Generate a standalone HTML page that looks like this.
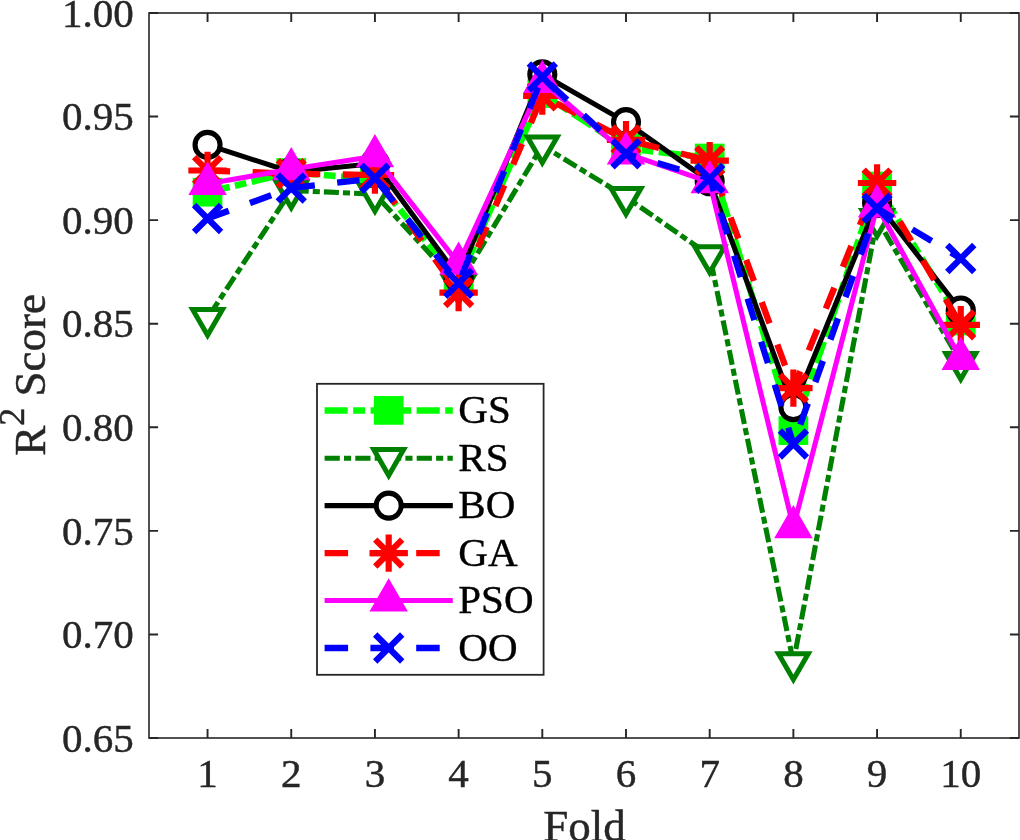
<!DOCTYPE html>
<html lang="en"><head><meta charset="utf-8"><title>R2 Score per Fold</title>
<style>html,body{margin:0;padding:0;background:#fff}body{width:1020px;height:840px;overflow:hidden}svg text{white-space:pre}</style>
</head><body>
<svg width="1020" height="840" viewBox="0 0 1020 840" style="display:block">
<rect width="1020" height="840" fill="#ffffff"/>
<rect x="149.0" y="13.0" width="870.00" height="725.00" fill="#ffffff" stroke="#262626" stroke-width="1.6"/>
<path d="M207.55 738.0v-9.1M207.55 13.0v9.1M291.24 738.0v-9.1M291.24 13.0v9.1M374.93 738.0v-9.1M374.93 13.0v9.1M458.62 738.0v-9.1M458.62 13.0v9.1M542.31 738.0v-9.1M542.31 13.0v9.1M626.00 738.0v-9.1M626.00 13.0v9.1M709.69 738.0v-9.1M709.69 13.0v9.1M793.38 738.0v-9.1M793.38 13.0v9.1M877.07 738.0v-9.1M877.07 13.0v9.1M960.76 738.0v-9.1M960.76 13.0v9.1M149.0 738.00h9.1M1019.0 738.00h-9.1M149.0 634.43h9.1M1019.0 634.43h-9.1M149.0 530.86h9.1M1019.0 530.86h-9.1M149.0 427.29h9.1M1019.0 427.29h-9.1M149.0 323.71h9.1M1019.0 323.71h-9.1M149.0 220.14h9.1M1019.0 220.14h-9.1M149.0 116.57h9.1M1019.0 116.57h-9.1M149.0 13.00h9.1M1019.0 13.00h-9.1" stroke="#262626" stroke-width="1.9" fill="none"/>
<g font-family="'Liberation Serif','Times New Roman',serif" font-size="41" fill="#262626" stroke="#262626" stroke-width="0.45">
<text x="207.55" y="787.4" text-anchor="middle">1</text>
<text x="291.24" y="787.4" text-anchor="middle">2</text>
<text x="374.93" y="787.4" text-anchor="middle">3</text>
<text x="458.62" y="787.4" text-anchor="middle">4</text>
<text x="542.31" y="787.4" text-anchor="middle">5</text>
<text x="626.00" y="787.4" text-anchor="middle">6</text>
<text x="709.69" y="787.4" text-anchor="middle">7</text>
<text x="793.38" y="787.4" text-anchor="middle">8</text>
<text x="877.07" y="787.4" text-anchor="middle">9</text>
<text x="960.76" y="787.4" text-anchor="middle">10</text>
<text x="133.7" y="751.70" text-anchor="end">0.65</text>
<text x="133.7" y="648.13" text-anchor="end">0.70</text>
<text x="133.7" y="544.56" text-anchor="end">0.75</text>
<text x="133.7" y="440.99" text-anchor="end">0.80</text>
<text x="133.7" y="337.41" text-anchor="end">0.85</text>
<text x="133.7" y="233.84" text-anchor="end">0.90</text>
<text x="133.7" y="130.27" text-anchor="end">0.95</text>
<text x="133.7" y="26.70" text-anchor="end">1.00</text>
</g>
<text x="584.4" y="841.3" text-anchor="middle" font-family="'Liberation Serif','Times New Roman',serif" font-size="45" fill="#262626" stroke="#262626" stroke-width="0.45">Fold</text>
<text transform="translate(44.7,455.8) rotate(-90)" font-family="'Liberation Serif','Times New Roman',serif" font-size="45" fill="#262626" stroke="#262626" stroke-width="0.45">R<tspan dy="-21" font-size="36.0">2</tspan><tspan dy="21"> Score</tspan></text>
<g fill="none" stroke="#00ff00" stroke-width="6.5" stroke-dasharray="22.7 5.4 11.7 5.5">
<path d="M207.55 192.20L291.24 172.50" stroke-dashoffset="0.00"/>
<path d="M291.24 172.50L374.93 179.00" stroke-dashoffset="40.68"/>
<path d="M374.93 179.00L458.62 281.00" stroke-dashoffset="34.02"/>
<path d="M458.62 281.00L542.31 93.50" stroke-dashoffset="30.06"/>
<path d="M542.31 93.50L626.00 148.30" stroke-dashoffset="8.89"/>
<path d="M626.00 148.30L709.69 158.00" stroke-dashoffset="12.32"/>
<path d="M709.69 158.00L793.38 430.60" stroke-dashoffset="5.97"/>
<path d="M793.38 430.60L877.07 186.00" stroke-dashoffset="19.33"/>
<path d="M877.07 186.00L960.76 321.00" stroke-dashoffset="6.05"/>
</g><g>
<rect x="192.70" y="177.85" width="29.7" height="28.7" fill="#00ff00"/>
<rect x="276.39" y="158.15" width="29.7" height="28.7" fill="#00ff00"/>
<rect x="360.08" y="164.65" width="29.7" height="28.7" fill="#00ff00"/>
<rect x="443.77" y="266.65" width="29.7" height="28.7" fill="#00ff00"/>
<rect x="527.46" y="79.15" width="29.7" height="28.7" fill="#00ff00"/>
<rect x="611.15" y="133.95" width="29.7" height="28.7" fill="#00ff00"/>
<rect x="694.84" y="143.65" width="29.7" height="28.7" fill="#00ff00"/>
<rect x="778.53" y="416.25" width="29.7" height="28.7" fill="#00ff00"/>
<rect x="862.22" y="171.65" width="29.7" height="28.7" fill="#00ff00"/>
<rect x="945.91" y="306.65" width="29.7" height="28.7" fill="#00ff00"/>
</g>
<g fill="none" stroke="#008000" stroke-width="5.1" stroke-dasharray="15.0 4.05 7.1 4.05">
<path d="M207.55 318.00L291.24 190.50" stroke-dashoffset="26.20"/>
<path d="M291.24 190.50L374.93 194.10" stroke-dashoffset="27.71"/>
<path d="M374.93 194.10L458.62 285.00" stroke-dashoffset="20.88"/>
<path d="M458.62 285.00L542.31 145.60" stroke-dashoffset="23.64"/>
<path d="M542.31 145.60L626.00 197.00" stroke-dashoffset="5.03"/>
<path d="M626.00 197.00L709.69 255.40" stroke-dashoffset="12.65"/>
<path d="M709.69 255.40L793.38 662.30" stroke-dashoffset="24.10"/>
<path d="M793.38 662.30L877.07 219.00" stroke-dashoffset="16.72"/>
<path d="M877.07 219.00L960.76 362.00" stroke-dashoffset="14.85"/>
</g><g>
<polygon points="192.65,309.40 222.45,309.40 207.55,335.21" fill="#ffffff" stroke="#008000" stroke-width="5" stroke-linejoin="miter" stroke-miterlimit="10"/>
<polygon points="276.34,181.90 306.14,181.90 291.24,207.71" fill="#ffffff" stroke="#008000" stroke-width="5" stroke-linejoin="miter" stroke-miterlimit="10"/>
<polygon points="360.03,185.50 389.83,185.50 374.93,211.31" fill="#ffffff" stroke="#008000" stroke-width="5" stroke-linejoin="miter" stroke-miterlimit="10"/>
<polygon points="443.72,276.40 473.52,276.40 458.62,302.21" fill="#ffffff" stroke="#008000" stroke-width="5" stroke-linejoin="miter" stroke-miterlimit="10"/>
<polygon points="527.41,137.00 557.21,137.00 542.31,162.81" fill="#ffffff" stroke="#008000" stroke-width="5" stroke-linejoin="miter" stroke-miterlimit="10"/>
<polygon points="611.10,188.40 640.90,188.40 626.00,214.21" fill="#ffffff" stroke="#008000" stroke-width="5" stroke-linejoin="miter" stroke-miterlimit="10"/>
<polygon points="694.79,246.80 724.59,246.80 709.69,272.61" fill="#ffffff" stroke="#008000" stroke-width="5" stroke-linejoin="miter" stroke-miterlimit="10"/>
<polygon points="778.48,653.70 808.28,653.70 793.38,679.51" fill="#ffffff" stroke="#008000" stroke-width="5" stroke-linejoin="miter" stroke-miterlimit="10"/>
<polygon points="862.17,210.40 891.97,210.40 877.07,236.21" fill="#ffffff" stroke="#008000" stroke-width="5" stroke-linejoin="miter" stroke-miterlimit="10"/>
<polygon points="945.86,353.40 975.66,353.40 960.76,379.21" fill="#ffffff" stroke="#008000" stroke-width="5" stroke-linejoin="miter" stroke-miterlimit="10"/>
</g>
<g><polyline points="207.55,144.90 291.24,172.00 374.93,163.50 458.62,277.00 542.31,74.20 626.00,122.10 709.69,181.30 793.38,407.10 877.07,203.00 960.76,310.50" fill="none" stroke="#000000" stroke-width="5.1" stroke-linejoin="round"/>
<circle cx="207.55" cy="144.90" r="12.5" fill="#ffffff" stroke="#000000" stroke-width="5.1"/>
<circle cx="291.24" cy="172.00" r="12.5" fill="#ffffff" stroke="#000000" stroke-width="5.1"/>
<circle cx="374.93" cy="163.50" r="12.5" fill="#ffffff" stroke="#000000" stroke-width="5.1"/>
<circle cx="458.62" cy="277.00" r="12.5" fill="#ffffff" stroke="#000000" stroke-width="5.1"/>
<circle cx="542.31" cy="74.20" r="12.5" fill="#ffffff" stroke="#000000" stroke-width="5.1"/>
<circle cx="626.00" cy="122.10" r="12.5" fill="#ffffff" stroke="#000000" stroke-width="5.1"/>
<circle cx="709.69" cy="181.30" r="12.5" fill="#ffffff" stroke="#000000" stroke-width="5.1"/>
<circle cx="793.38" cy="407.10" r="12.5" fill="#ffffff" stroke="#000000" stroke-width="5.1"/>
<circle cx="877.07" cy="203.00" r="12.5" fill="#ffffff" stroke="#000000" stroke-width="5.1"/>
<circle cx="960.76" cy="310.50" r="12.5" fill="#ffffff" stroke="#000000" stroke-width="5.1"/>
</g>
<g fill="none" stroke="#ff0000" stroke-width="6.3" stroke-dasharray="22.6 22.5">
<path d="M207.55 170.50L291.24 173.70" stroke-dashoffset="0.00"/>
<path d="M291.24 173.70L374.93 175.00" stroke-dashoffset="38.65"/>
<path d="M374.93 175.00L458.62 292.60" stroke-dashoffset="32.15"/>
<path d="M458.62 292.60L542.31 96.00" stroke-dashoffset="41.19"/>
<path d="M542.31 96.00L626.00 139.80" stroke-dashoffset="29.36"/>
<path d="M626.00 139.80L709.69 160.70" stroke-dashoffset="33.62"/>
<path d="M709.69 160.70L793.38 388.10" stroke-dashoffset="29.68"/>
<path d="M793.38 388.10L877.07 183.00" stroke-dashoffset="4.39"/>
<path d="M877.07 183.00L960.76 324.80" stroke-dashoffset="0.41"/>
</g><g>
<path d="M188.35 170.50H226.75M207.55 151.80V189.20M194.12 157.07L220.98 183.93M194.12 183.93L220.98 157.07" stroke="#ff0000" stroke-width="6.2" fill="none"/>
<path d="M272.04 173.70H310.44M291.24 155.00V192.40M277.81 160.27L304.67 187.13M277.81 187.13L304.67 160.27" stroke="#ff0000" stroke-width="6.2" fill="none"/>
<path d="M355.73 175.00H394.13M374.93 156.30V193.70M361.50 161.57L388.36 188.43M361.50 188.43L388.36 161.57" stroke="#ff0000" stroke-width="6.2" fill="none"/>
<path d="M439.42 292.60H477.82M458.62 273.90V311.30M445.19 279.17L472.05 306.03M445.19 306.03L472.05 279.17" stroke="#ff0000" stroke-width="6.2" fill="none"/>
<path d="M523.11 96.00H561.51M542.31 77.30V114.70M528.88 82.57L555.74 109.43M528.88 109.43L555.74 82.57" stroke="#ff0000" stroke-width="6.2" fill="none"/>
<path d="M606.80 139.80H645.20M626.00 121.10V158.50M612.57 126.37L639.43 153.23M612.57 153.23L639.43 126.37" stroke="#ff0000" stroke-width="6.2" fill="none"/>
<path d="M690.49 160.70H728.89M709.69 142.00V179.40M696.26 147.27L723.12 174.13M696.26 174.13L723.12 147.27" stroke="#ff0000" stroke-width="6.2" fill="none"/>
<path d="M774.18 388.10H812.58M793.38 369.40V406.80M779.95 374.67L806.81 401.53M779.95 401.53L806.81 374.67" stroke="#ff0000" stroke-width="6.2" fill="none"/>
<path d="M857.87 183.00H896.27M877.07 164.30V201.70M863.64 169.57L890.50 196.43M863.64 196.43L890.50 169.57" stroke="#ff0000" stroke-width="6.2" fill="none"/>
<path d="M941.56 324.80H979.96M960.76 306.10V343.50M947.33 311.37L974.19 338.23M947.33 338.23L974.19 311.37" stroke="#ff0000" stroke-width="6.2" fill="none"/>
</g>
<g><polyline points="207.55,183.80 291.24,169.20 374.93,156.20 458.62,263.70 542.31,81.90 626.00,153.40 709.69,182.10 793.38,527.10 877.07,206.30 960.76,359.00" fill="none" stroke="#ff00ff" stroke-width="5.1" stroke-linejoin="round"/>
<polygon points="192.65,192.40 222.45,192.40 207.55,166.59" fill="#ff00ff" stroke="#ff00ff" stroke-width="5" stroke-linejoin="miter" stroke-miterlimit="10"/>
<polygon points="276.34,177.80 306.14,177.80 291.24,151.99" fill="#ff00ff" stroke="#ff00ff" stroke-width="5" stroke-linejoin="miter" stroke-miterlimit="10"/>
<polygon points="360.03,164.80 389.83,164.80 374.93,138.99" fill="#ff00ff" stroke="#ff00ff" stroke-width="5" stroke-linejoin="miter" stroke-miterlimit="10"/>
<polygon points="443.72,272.30 473.52,272.30 458.62,246.49" fill="#ff00ff" stroke="#ff00ff" stroke-width="5" stroke-linejoin="miter" stroke-miterlimit="10"/>
<polygon points="527.41,90.50 557.21,90.50 542.31,64.69" fill="#ff00ff" stroke="#ff00ff" stroke-width="5" stroke-linejoin="miter" stroke-miterlimit="10"/>
<polygon points="611.10,162.00 640.90,162.00 626.00,136.19" fill="#ff00ff" stroke="#ff00ff" stroke-width="5" stroke-linejoin="miter" stroke-miterlimit="10"/>
<polygon points="694.79,190.70 724.59,190.70 709.69,164.89" fill="#ff00ff" stroke="#ff00ff" stroke-width="5" stroke-linejoin="miter" stroke-miterlimit="10"/>
<polygon points="778.48,535.70 808.28,535.70 793.38,509.89" fill="#ff00ff" stroke="#ff00ff" stroke-width="5" stroke-linejoin="miter" stroke-miterlimit="10"/>
<polygon points="862.17,214.90 891.97,214.90 877.07,189.09" fill="#ff00ff" stroke="#ff00ff" stroke-width="5" stroke-linejoin="miter" stroke-miterlimit="10"/>
<polygon points="945.86,367.60 975.66,367.60 960.76,341.79" fill="#ff00ff" stroke="#ff00ff" stroke-width="5" stroke-linejoin="miter" stroke-miterlimit="10"/>
</g>
<g fill="none" stroke="#0000ff" stroke-width="6.3" stroke-dasharray="22.6 22.5">
<path d="M207.55 218.50L291.24 188.00" stroke-dashoffset="0.00"/>
<path d="M291.24 188.00L374.93 178.30" stroke-dashoffset="43.97"/>
<path d="M374.93 178.30L458.62 283.20" stroke-dashoffset="38.02"/>
<path d="M458.62 283.20L542.31 77.00" stroke-dashoffset="36.92"/>
<path d="M542.31 77.00L626.00 153.80" stroke-dashoffset="33.96"/>
<path d="M626.00 153.80L709.69 178.40" stroke-dashoffset="12.24"/>
<path d="M709.69 178.40L793.38 444.00" stroke-dashoffset="9.27"/>
<path d="M793.38 444.00L877.07 208.30" stroke-dashoffset="24.55"/>
<path d="M877.07 208.30L960.76 258.50" stroke-dashoffset="4.06"/>
</g><g>
<path d="M194.05 205.00L221.05 232.00M194.05 232.00L221.05 205.00" stroke="#0000ff" stroke-width="6.2" fill="none"/>
<path d="M277.74 174.50L304.74 201.50M277.74 201.50L304.74 174.50" stroke="#0000ff" stroke-width="6.2" fill="none"/>
<path d="M361.43 164.80L388.43 191.80M361.43 191.80L388.43 164.80" stroke="#0000ff" stroke-width="6.2" fill="none"/>
<path d="M445.12 269.70L472.12 296.70M445.12 296.70L472.12 269.70" stroke="#0000ff" stroke-width="6.2" fill="none"/>
<path d="M528.81 63.50L555.81 90.50M528.81 90.50L555.81 63.50" stroke="#0000ff" stroke-width="6.2" fill="none"/>
<path d="M612.50 140.30L639.50 167.30M612.50 167.30L639.50 140.30" stroke="#0000ff" stroke-width="6.2" fill="none"/>
<path d="M696.19 164.90L723.19 191.90M696.19 191.90L723.19 164.90" stroke="#0000ff" stroke-width="6.2" fill="none"/>
<path d="M779.88 430.50L806.88 457.50M779.88 457.50L806.88 430.50" stroke="#0000ff" stroke-width="6.2" fill="none"/>
<path d="M863.57 194.80L890.57 221.80M863.57 221.80L890.57 194.80" stroke="#0000ff" stroke-width="6.2" fill="none"/>
<path d="M947.26 245.00L974.26 272.00M947.26 272.00L974.26 245.00" stroke="#0000ff" stroke-width="6.2" fill="none"/>
</g>
<rect x="317.0" y="383.8" width="226.60" height="291.00" fill="#ffffff" stroke="#262626" stroke-width="1.8"/>
<path d="M324.6 410.4H452.8" stroke="#00ff00" stroke-width="6.5" fill="none" stroke-dasharray="23.1 5.5 11.9 5.5"/>
<rect x="373.85" y="396.05" width="29.7" height="28.7" fill="#00ff00"/>
<text x="458.3" y="423.00" font-family="'Liberation Serif','Times New Roman',serif" font-size="41" fill="#000000" stroke="#000000" stroke-width="0.4">GS</text>
<path d="M324.6 458.2H452.8" stroke="#008000" stroke-width="5.1" fill="none" stroke-dasharray="15.2 4.2 7.1 4.2"/>
<polygon points="373.80,449.60 403.60,449.60 388.70,475.41" fill="#ffffff" stroke="#008000" stroke-width="5" stroke-linejoin="miter" stroke-miterlimit="10"/>
<text x="458.3" y="470.80" font-family="'Liberation Serif','Times New Roman',serif" font-size="41" fill="#000000" stroke="#000000" stroke-width="0.4">RS</text>
<path d="M324.6 505.6H452.8" stroke="#000000" stroke-width="5.1" fill="none"/>
<circle cx="388.70" cy="505.60" r="12.5" fill="#ffffff" stroke="#000000" stroke-width="5.1"/>
<text x="458.3" y="518.20" font-family="'Liberation Serif','Times New Roman',serif" font-size="41" fill="#000000" stroke="#000000" stroke-width="0.4">BO</text>
<path d="M324.6 553.1H452.8" stroke="#ff0000" stroke-width="6.3" fill="none" stroke-dasharray="23.5 22.3"/>
<path d="M369.50 553.10H407.90M388.70 534.40V571.80M375.27 539.67L402.13 566.53M375.27 566.53L402.13 539.67" stroke="#ff0000" stroke-width="6.2" fill="none"/>
<text x="458.3" y="565.70" font-family="'Liberation Serif','Times New Roman',serif" font-size="41" fill="#000000" stroke="#000000" stroke-width="0.4">GA</text>
<path d="M324.6 600.5H452.8" stroke="#ff00ff" stroke-width="5.1" fill="none"/>
<polygon points="373.80,609.10 403.60,609.10 388.70,583.29" fill="#ff00ff" stroke="#ff00ff" stroke-width="5" stroke-linejoin="miter" stroke-miterlimit="10"/>
<text x="458.3" y="613.10" font-family="'Liberation Serif','Times New Roman',serif" font-size="41" fill="#000000" stroke="#000000" stroke-width="0.4">PSO</text>
<path d="M324.6 648.0H452.8" stroke="#0000ff" stroke-width="6.3" fill="none" stroke-dasharray="23.5 22.3"/>
<path d="M375.20 634.50L402.20 661.50M375.20 661.50L402.20 634.50" stroke="#0000ff" stroke-width="6.2" fill="none"/>
<text x="458.3" y="660.60" font-family="'Liberation Serif','Times New Roman',serif" font-size="41" fill="#000000" stroke="#000000" stroke-width="0.4">OO</text>
</svg>
</body></html>
